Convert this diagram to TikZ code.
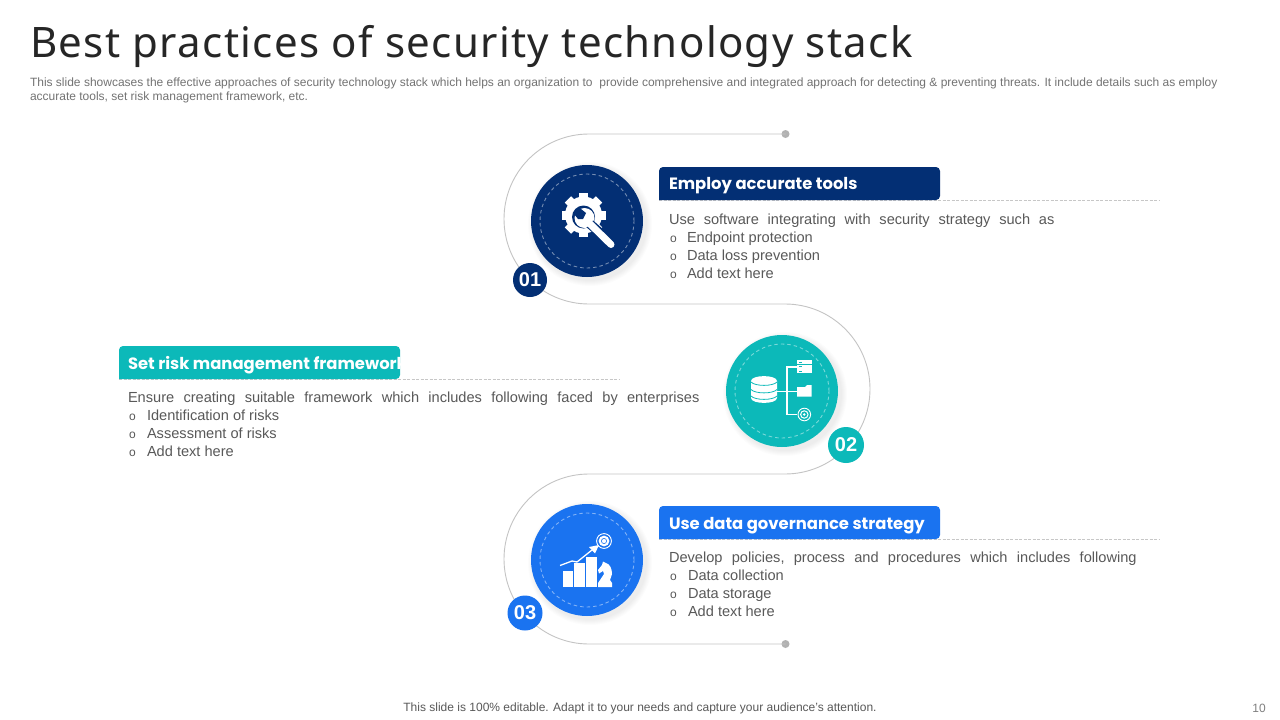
\documentclass[tikz,border=0pt]{standalone}
\usepackage{fontspec}
\setmainfont{Liberation Sans}
\newfontfamily\titlefont[LetterSpace=3.2]{Noto Sans}
\newfontfamily\headfont{Poppins}
\definecolor{navy}{HTML}{032F74}
\definecolor{teal2}{HTML}{0CB9B9}
\definecolor{blue2}{HTML}{1A73F0}
\definecolor{bodygrey}{HTML}{595959}
\definecolor{linegrey}{HTML}{C4C4C4}
\tikzset{
  txt/.style={anchor=base west,inner sep=0pt,outer sep=0pt,text=bodygrey,font=\fontsize{14.6}{16}\selectfont},
  lead/.style={txt,execute at begin node={\spaceskip #1pt\relax}},
  bul/.style={anchor=base west,inner sep=0pt,outer sep=0pt,text=bodygrey,font=\fontsize{12}{13}\selectfont},
  head/.style={anchor=base west,inner sep=0pt,outer sep=0pt,text=white,font=\headfont\bfseries\fontsize{16.4}{19}\selectfont},
  small/.style={anchor=base west,inner sep=0pt,outer sep=0pt,text=black!55,font=\fontsize{12}{13}\selectfont},
  disc/.style={circle,minimum size=112pt,inner sep=0pt,outer sep=0pt},
  ring/.style={circle,minimum size=94pt,inner sep=0pt,draw=white,draw opacity=.45,line width=.9pt,dash pattern=on 3.5pt off 3pt},
  badge/.style={circle,inner sep=0pt,text=white,font=\bfseries\fontsize{20}{22}\selectfont},
  enddot/.style={circle,fill=black!30,minimum size=8pt,inner sep=0pt},
  rule/.style={draw=black!22,line width=.7pt,dash pattern=on 3pt off 1.5pt},
}
\newcommand{\softshadow}[2]{%
  \foreach \r in {62,61,60,59,58,57}{\fill[black,opacity=.012] (#1+3,#2+3) circle (\r pt);}
}
\begin{document}
\begin{tikzpicture}[x=1pt,y=-1pt]
\useasboundingbox (0,0) rectangle (1280,720);
\fill[white] (0,0) rectangle (1280,720);

\node[anchor=base west,inner sep=0pt,text=black!85,font=\titlefont\fontsize{42}{50}\selectfont] (title) at (30,57.5) {Best practices of security technology stack};
\node[small] (sub1) at (30,86) {This slide showcases the effective approaches of security technology stack which helps an organization to\ \ provide comprehensive and integrated approach for detecting \& preventing threats. It include details such as employ};
\node[small] (sub2) at (30,100) {accurate tools, set risk management framework, etc.};

% serpentine
\node[enddot] (dotA) at (785.5,134) {};
\node[enddot] (dotB) at (785.5,644) {};
\draw[linegrey,line width=.9pt,rounded corners=85pt] (dotA.center) -- (504,134) -- (504,304) -- (870,304) -- (870,474) -- (504,474) -- (504,644) -- (dotB.center);

% discs
\softshadow{587}{221}
\softshadow{782}{391}
\softshadow{587}{560}
\node[disc,fill=navy] (c1) at (587,221) {};
\node[ring] (r1) at (587,221) {};
\node[disc,fill=teal2] (c2) at (782,391) {};
\node[ring] (r2) at (782,391) {};
\node[disc,fill=blue2] (c3) at (587,560) {};
\node[ring] (r3) at (587,560) {};

% icon 1: gear and wrench
\foreach \a in {0,45,...,315}{\fill[white,rotate around={\a:(583.5,215)}] (579,193) rectangle (588,203);}
\fill[white] (583.5,215) circle (18.5pt);
\fill[navy] (583.5,217) circle (11.5pt);
\fill[white] (584.5,218) circle (10pt);
\draw[navy,line width=9.5pt] (590,224) -- (599,232);
\draw[white,line width=7pt,line cap=round] (586,220) -- (611,244.5);
\fill[navy] (574,214) -- (578.5,207) -- (586,213) -- (583,219) -- (578,219) -- cycle;

% icon 2: database tree
\fill[white] (751,381) .. controls (751,374.5) and (777,374.5) .. (777,381) -- (777,398) .. controls (777,404.5) and (751,404.5) .. (751,398) -- cycle;
\foreach \y in {382,389.5,396}{\draw[teal2,line width=.8pt] (751,\y) .. controls (755,\y+4.5) and (773,\y+4.5) .. (777,\y);}
\draw[white,line width=1.2pt] (777,391.5) -- (797,391.5);
\draw[white,line width=1.2pt] (797,367) -- (787,367) -- (787,414.5) -- (797,414.5);
\foreach \y in {360,364.6,369.2}{\fill[white] (797,\y) rectangle (811.5,\y+3.9);\fill[teal2] (799,\y+1.5) rectangle (802,\y+2.4);}
\fill[white] (797,387) -- (805,387) -- (807,385) -- (811.5,385) -- (811.5,396.5) -- (797,396.5) -- cycle;
\draw[white,line width=.9pt] (804.3,414.5) circle (6.3pt);
\draw[white,line width=1pt] (804.3,414.5) circle (3.7pt);
\fill[white] (804.3,414.5) circle (1.4pt);

% icon 3: chart, arrow, target, knight
\fill[white] (563,571) rectangle (572.5,587);
\fill[white] (574,563) rectangle (584.5,587);
\fill[white] (586,557) rectangle (596.5,587);
\draw[white,line width=1.3pt,line join=round] (560,565.5) -- (572,561) -- (577,562) -- (592,550);
\fill[white] (599,545) -- (589,547) -- (595,553.5) -- cycle;
\draw[white,line width=.9pt] (604,541) circle (7.4pt);
\fill[white] (604,541) circle (5.4pt);
\draw[blue2,line width=.6pt] (604,541) circle (2.6pt);
\fill[white] (598,587) -- (598,583) -- (604,574) -- (603,571) -- (599,573.5) -- (598,570) -- (602,565) -- (603,561.5) -- (606,563) .. controls (610,564) and (612,569) .. (612,574) -- (610,580) -- (612,583) -- (612,587) -- cycle;

% badges
\node[badge,fill=navy,minimum size=34pt] (b1) at (530,280) {01};
\node[badge,fill=teal2,minimum size=36pt] (b2) at (846,445) {02};
\node[badge,fill=blue2,minimum size=35pt] (b3) at (525,613) {03};

% item 1
\draw[rule] (659,200) -- (1160,200);
\fill[navy] (659,200) {[rounded corners=4pt] -- (659,167) -- (940,167) -- (940,200)} -- cycle;
\node[head] (h1) at (669,189) {Employ accurate tools};
\node[lead=8.8] (t1) at (669,224.5) {Use software integrating with security strategy such as};
\node[bul] (o11) at (670,242) {o}; \node[txt] (t11) at (687,242) {Endpoint protection};
\node[bul] (o12) at (670,260) {o}; \node[txt] (t12) at (687,260) {Data loss prevention};
\node[bul] (o13) at (670,278) {o}; \node[txt] (t13) at (687,278) {Add text here};

% item 2
\draw[rule] (119,379) -- (620,379);
\fill[teal2] (119,379) {[rounded corners=4pt] -- (119,346) -- (400,346) -- (400,379)} -- cycle;
\begin{scope}
\clip (119,346) rectangle (400,379);
\node[head] (h2) at (128,369) {Set risk management framework};
\end{scope}
\node[lead=9.3] (t2) at (128,402.5) {Ensure creating suitable framework which includes following faced by enterprises};
\node[bul] (o21) at (129,420) {o}; \node[txt] (t21) at (147,420) {Identification of risks};
\node[bul] (o22) at (129,438) {o}; \node[txt] (t22) at (147,438) {Assessment of risks};
\node[bul] (o23) at (129,456) {o}; \node[txt] (t23) at (147,456) {Add text here};

% item 3
\draw[rule] (659,539) -- (1160,539);
\fill[blue2] (659,539) {[rounded corners=4pt] -- (659,506) -- (940,506) -- (940,539)} -- cycle;
\node[head] (h3) at (669,529) {Use data governance strategy};
\node[lead=9.3] (t3) at (669,562.5) {Develop policies, process and procedures which includes following};
\node[bul] (o31) at (670,580) {o}; \node[txt] (t31) at (688,580) {Data collection};
\node[bul] (o32) at (670,598) {o}; \node[txt] (t32) at (688,598) {Data storage};
\node[bul] (o33) at (670,616) {o}; \node[txt] (t33) at (688,616) {Add text here};

% footer
\node[anchor=base,inner sep=0pt,text=black!65,font=\fontsize{12}{14}\selectfont] (foot) at (640,711) {This slide is 100\% editable. Adapt it to your needs and capture your audience's attention.};
\node[anchor=base,inner sep=0pt,text=black!50,font=\fontsize{12}{14}\selectfont] (page) at (1259,712) {10};
\end{tikzpicture}
\end{document}
